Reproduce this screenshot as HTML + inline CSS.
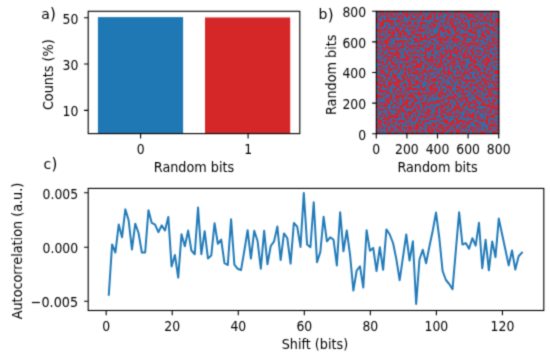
<!DOCTYPE html>
<html><head><meta charset="utf-8"><style>
html,body{margin:0;padding:0;background:#fff;width:550px;height:354px;overflow:hidden}
svg{display:block}
</style></head><body>
<svg width="550" height="354" viewBox="0 0 550 354">
<defs>
<filter id="noise" x="0" y="0" width="100%" height="100%" filterUnits="objectBoundingBox" color-interpolation-filters="sRGB">
<feTurbulence type="fractalNoise" baseFrequency="0.44" numOctaves="2" seed="7" result="t"/>
<feColorMatrix in="t" type="matrix" values="0 0 0 0 0.93  0 0 0 0 0.09  0 0 0 0 0.11  30 -30 0 0 0.45" result="m"/>
<feComponentTransfer in="m"><feFuncA type="discrete" tableValues="0 1"/></feComponentTransfer>
<feConvolveMatrix order="3" kernelMatrix="0 1 0 1 12 1 0 1 0" divisor="16" edgeMode="duplicate"/>
</filter>
<filter id="soft" x="0" y="0" width="550" height="354" filterUnits="userSpaceOnUse" color-interpolation-filters="sRGB">
<feConvolveMatrix order="3" kernelMatrix="6 25 6 25 100 25 6 25 6" divisor="224" edgeMode="duplicate" preserveAlpha="true"/>
</filter>
</defs>
<g filter="url(#soft)">
<rect width="550" height="354" fill="#fff"/>
<rect x="97.9" y="17.12" width="85.2" height="116.48" fill="#1f77b4"/>
<rect x="205.0" y="17.47" width="85.2" height="116.13" fill="#d62728"/>
<rect x="88.2" y="11.3" width="211.60" height="122.30" fill="none" stroke="#000" stroke-width="1.1"/>
<rect x="376.3" y="11.3" width="122.60" height="122.40" fill="#1f77b4"/>
<rect x="376.3" y="11.3" width="122.60" height="122.40" filter="url(#noise)"/>
<rect x="376.3" y="11.3" width="122.60" height="122.40" fill="none" stroke="#000" stroke-width="1.1"/>
<polyline points="108.81,294.70 112.11,244.40 115.42,252.50 118.72,224.60 122.03,237.30 125.33,209.30 128.63,220.30 131.94,249.50 135.25,223.70 138.55,233.00 141.86,252.50 145.16,252.50 148.47,210.20 151.77,222.90 155.07,224.60 158.38,232.20 161.69,225.40 164.99,230.50 168.30,216.90 171.60,266.50 174.91,255.00 178.21,277.60 181.51,234.20 184.82,246.20 188.12,230.60 191.43,250.50 194.74,254.30 198.04,207.50 201.34,254.30 204.65,231.20 207.95,258.40 211.26,255.60 214.56,223.20 217.87,243.80 221.18,239.60 224.48,263.10 227.79,265.00 231.09,219.30 234.40,264.60 237.70,268.80 241.00,270.10 244.31,251.00 247.62,230.20 250.92,258.60 254.22,230.80 257.53,240.80 260.84,268.70 264.14,230.80 267.45,264.20 270.75,246.00 274.06,241.40 277.36,226.50 280.67,260.10 283.97,233.40 287.27,238.00 290.58,263.60 293.88,223.00 297.19,226.60 300.50,246.90 303.80,193.10 307.11,244.50 310.41,247.20 313.72,202.20 317.02,262.20 320.33,252.00 323.63,216.80 326.94,241.30 330.24,237.30 333.55,239.80 336.85,265.40 340.15,212.20 343.46,251.30 346.76,230.40 350.07,255.00 353.38,290.60 356.68,270.50 359.99,266.30 363.29,287.50 366.60,230.20 369.90,250.70 373.21,247.90 376.51,271.00 379.81,247.20 383.12,269.80 386.43,229.40 389.73,234.50 393.04,243.00 396.34,259.10 399.65,280.20 402.95,257.40 406.25,234.50 409.56,260.60 412.87,241.30 416.17,303.90 419.48,259.50 422.78,249.80 426.09,263.20 429.39,246.50 432.69,231.00 436.00,212.60 439.31,238.00 442.61,271.00 445.92,280.00 449.22,284.00 452.53,289.10 455.83,250.50 459.13,212.30 462.44,244.50 465.75,243.10 469.05,248.80 472.36,238.20 475.66,245.60 478.97,222.80 482.27,268.20 485.58,239.80 488.88,270.30 492.19,241.40 495.49,257.20 498.80,218.60 502.10,234.20 505.41,249.80 508.71,265.40 512.02,250.50 515.32,269.60 518.62,256.20 521.93,252.60" fill="none" stroke="#217ab8" stroke-width="2.0" stroke-linejoin="round" stroke-linecap="square"/>
<rect x="88.2" y="188.4" width="455.60" height="122.10" fill="none" stroke="#000" stroke-width="1.1"/>
<path d="M84.0 110.42H88.2M84.0 64.06H88.2M84.0 17.70H88.2M140.6 133.6v4.8M248.1 133.6v4.8M372.1 133.70H376.3M376.30 133.7v4.8M372.1 103.10H376.3M406.90 133.7v4.8M372.1 72.50H376.3M437.50 133.7v4.8M372.1 41.90H376.3M468.10 133.7v4.8M372.1 11.30H376.3M498.70 133.7v4.8M84.0 192.70H88.2M84.0 247.20H88.2M84.0 301.30H88.2M106.20 310.5v4.8M172.24 310.5v4.8M238.28 310.5v4.8M304.32 310.5v4.8M370.36 310.5v4.8M436.40 310.5v4.8M502.44 310.5v4.8" stroke="#000" stroke-width="1.1" fill="none"/>
<g style='font-family:"DejaVu Sans","Liberation Sans",sans-serif;font-size:12.8px' fill="#000">
<text transform="translate(78.30 116.22) scale(0.97 1.12)" text-anchor="end">10</text>
<text transform="translate(78.30 69.86) scale(0.97 1.12)" text-anchor="end">30</text>
<text transform="translate(78.30 23.50) scale(0.97 1.12)" text-anchor="end">50</text>
<text transform="translate(140.60 153.50) scale(0.97 1.12)" text-anchor="middle">0</text>
<text transform="translate(248.10 153.50) scale(0.97 1.12)" text-anchor="middle">1</text>
<text transform="translate(194.00 172.00) scale(1 1.03)" text-anchor="middle">Random bits</text>
<text transform="translate(53.30 74.70) rotate(-90) scale(1 1.03)" text-anchor="middle">Counts (%)</text>
<text transform="translate(41.2 18.6)" font-size="14">a<tspan dx="0.2" dy="0.8" font-size="15">)</tspan></text>
<text transform="translate(366.10 139.50) scale(0.97 1.12)" text-anchor="end">0</text>
<text transform="translate(376.30 153.50) scale(0.97 1.12)" text-anchor="middle">0</text>
<text transform="translate(366.10 108.90) scale(0.97 1.12)" text-anchor="end">200</text>
<text transform="translate(406.90 153.50) scale(0.97 1.12)" text-anchor="middle">200</text>
<text transform="translate(366.10 78.30) scale(0.97 1.12)" text-anchor="end">400</text>
<text transform="translate(437.50 153.50) scale(0.97 1.12)" text-anchor="middle">400</text>
<text transform="translate(366.10 47.70) scale(0.97 1.12)" text-anchor="end">600</text>
<text transform="translate(468.10 153.50) scale(0.97 1.12)" text-anchor="middle">600</text>
<text transform="translate(366.10 17.10) scale(0.97 1.12)" text-anchor="end">800</text>
<text transform="translate(498.70 153.50) scale(0.97 1.12)" text-anchor="middle">800</text>
<text transform="translate(437.60 171.80) scale(1 1.03)" text-anchor="middle">Random bits</text>
<text transform="translate(336.20 74.80) rotate(-90) scale(1 1.03)" text-anchor="middle">Random bits</text>
<text transform="translate(318.6 19.0)" font-size="14">b<tspan dx="0.2" dy="0.5" font-size="15">)</tspan></text>
<text transform="translate(78.10 198.90) scale(0.97 1.12)" text-anchor="end">0.005</text>
<text transform="translate(78.10 253.40) scale(0.97 1.12)" text-anchor="end">0.000</text>
<text transform="translate(78.10 307.00) scale(1.0 1.12)" text-anchor="end">−0.005</text>
<text transform="translate(106.20 330.60) scale(0.97 1.12)" text-anchor="middle">0</text>
<text transform="translate(172.24 330.60) scale(0.97 1.12)" text-anchor="middle">20</text>
<text transform="translate(238.28 330.60) scale(0.97 1.12)" text-anchor="middle">40</text>
<text transform="translate(304.32 330.60) scale(0.97 1.12)" text-anchor="middle">60</text>
<text transform="translate(370.36 330.60) scale(0.97 1.12)" text-anchor="middle">80</text>
<text transform="translate(436.40 330.60) scale(0.97 1.12)" text-anchor="middle">100</text>
<text transform="translate(502.44 330.60) scale(0.97 1.12)" text-anchor="middle">120</text>
<text transform="translate(314.90 348.80) scale(1 1.03)" text-anchor="middle">Shift (bits)</text>
<text transform="translate(22.40 251.00) rotate(-90) scale(1 1.03)" text-anchor="middle">Autocorrelation (a.u.)</text>
<text transform="translate(43.4 168.7)" font-size="14">c<tspan dx="0.4" dy="0.5" font-size="15">)</tspan></text>
</g>
</g>
</svg>
</body></html>
